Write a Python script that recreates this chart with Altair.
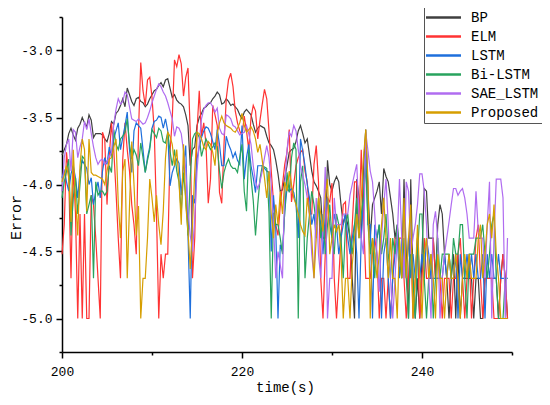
import altair as alt
import pandas as pd

# sampling times (s): 200.0 .. 249.5 every 0.25 s
t0 = 200.0
dt = 0.25
n_points = 199
times = [t0 + dt * i for i in range(n_points)]

series_names = ["BP", "ELM", "LSTM", "Bi-LSTM", "SAE_LSTM", "Proposed"]
series_colors = ["#3f3f3f", "#ff3333", "#1e6fdc", "#28a35e", "#b06cf0", "#d69e00"]

BP = [
    -3.78, -3.74, -3.70, -3.62, -3.58, -3.63, -3.67, -3.58, -3.55, -3.50, -3.54, -3.57, -3.48, -3.52, -3.65, -3.62, -3.62, -3.62, -3.63, -3.66,
    -3.68, -3.62, -3.53, -3.55, -3.47, -3.45, -3.41, -3.36, -3.42, -3.28, -3.33, -3.38, -3.41, -3.36, -3.35, -3.38, -3.39, -3.42, -3.40, -3.36,
    -3.33, -3.30, -3.29, -3.26, -3.24, -3.27, -3.22, -3.21, -3.28, -3.35, -3.33, -3.37, -3.39, -3.40, -3.42, -3.48, -3.56, -3.86, -3.74, -3.72,
    -3.56, -3.50, -3.47, -3.43, -3.42, -3.40, -3.39, -3.36, -3.34, -3.31, -3.33, -3.40, -3.39, -3.36, -3.38, -3.41, -3.40, -3.42, -3.44, -3.48,
    -3.51, -3.46, -3.44, -3.46, -3.48, -3.55, -3.61, -3.58, -3.56, -3.57, -3.58, -3.64, -3.69, -3.71, -3.74, -3.82, -3.92, -4.05, -4.04, -3.95,
    -3.86, -3.76, -3.74, -3.73, -3.68, -3.60, -3.56, -3.62, -3.69, -3.66, -3.78, -3.90, -3.98, -4.01, -4.05, -4.10, -4.40, -4.40, -3.82, -4.00,
    -4.05, -3.98, -3.94, -3.98, -4.15, -4.30, -4.22, -4.30, -4.40, -4.70, -5.00, -3.96, -4.10, -4.40, -3.86, -3.59, -4.05, -4.40, -4.15, -4.10,
    -4.05, -3.98, -4.22, -3.88, -3.94, -3.98, -4.10, -4.22, -4.40, -4.30, -4.52, -4.70, -3.96, -4.52, -5.00, -3.96, -4.70, -5.00, -4.70, -5.00,
    -4.52, -4.03, -4.05, -4.40, -4.40, -4.40, -4.70, -4.30, -4.15, -4.22, -4.52, -4.70, -5.00, -4.70, -4.52, -5.00, -4.52, -5.00, -4.70, -4.70,
    -4.70, -4.70, -4.70, -5.00, -4.70, -4.70, -5.00, -5.00, -4.70, -4.70, -4.70, -4.70, -4.70, -4.70, -5.00, -4.70, -4.52, -4.70, -5.00,
]

ELM = [
    -4.52, -4.30, -3.76, -3.93, -4.70, -3.86, -4.22, -5.00, -4.22, -5.00, -4.22, -5.00, -5.00, -4.08, -4.15, -4.40, -4.70, -5.00, -3.61, -3.66,
    -4.15, -3.80, -3.54, -3.74, -4.05, -4.40, -4.70, -3.81, -3.54, -3.74, -3.90, -4.15, -4.30, -4.52, -3.60, -3.09, -3.30, -3.41, -3.22, -3.20,
    -3.35, -3.60, -4.22, -5.00, -4.52, -4.70, -4.52, -4.52, -3.76, -3.51, -3.07, -3.12, -3.03, -3.10, -3.34, -3.20, -3.13, -3.61, -4.70, -4.40,
    -3.60, -3.30, -3.64, -3.54, -3.70, -4.14, -3.96, -3.41, -3.48, -3.56, -4.06, -4.14, -3.70, -3.36, -3.22, -3.17, -3.27, -3.45, -3.54, -3.60,
    -3.64, -3.49, -3.60, -3.74, -3.50, -3.41, -3.45, -3.66, -3.52, -3.40, -3.29, -3.36, -3.60, -3.90, -4.13, -4.30, -4.38, -4.16, -4.00, -3.85,
    -3.76, -3.59, -4.13, -4.00, -3.86, -3.80, -3.76, -3.74, -3.90, -3.98, -4.22, -4.22, -3.85, -3.71, -3.98, -4.70, -5.00, -4.52, -4.10, -4.13,
    -3.99, -4.70, -5.00, -4.70, -4.40, -4.15, -4.13, -4.70, -4.70, -4.30, -3.98, -3.98, -4.30, -3.74, -4.22, -4.70, -4.70, -4.70, -4.52, -4.40,
    -4.52, -5.00, -4.70, -4.70, -5.00, -4.70, -5.00, -4.70, -4.40, -4.40, -4.40, -4.40, -4.70, -5.00, -4.70, -4.40, -5.00, -4.70, -4.40, -5.00,
    -4.70, -4.40, -4.70, -4.70, -4.70, -4.40, -4.70, -4.70, -4.70, -5.00, -4.70, -4.70, -4.70, -5.00, -4.70, -4.70, -4.52, -4.40, -4.70, -5.00,
    -4.70, -4.52, -5.00, -4.70, -4.40, -4.30, -4.70, -5.00, -4.70, -4.70, -4.70, -4.70, -5.00, -5.00, -5.00, -4.70, -4.52, -4.70, -5.00,
]

LSTM = [
    -3.95, -3.90, -3.98, -4.05, -3.92, -3.86, -3.95, -4.10, -3.90, -3.82, -3.85, -3.88, -4.00, -3.95, -4.15, -4.05, -3.98, -4.10, -3.90, -3.80,
    -3.85, -3.72, -3.80, -3.66, -3.60, -3.54, -3.74, -3.65, -3.56, -3.46, -3.74, -3.91, -3.60, -3.54, -3.56, -3.58, -3.74, -3.91, -3.80, -3.72,
    -3.58, -3.53, -3.52, -3.49, -3.50, -3.58, -3.51, -3.60, -4.01, -3.91, -3.86, -3.81, -3.84, -4.08, -3.86, -3.71, -4.38, -5.00, -4.08, -4.14,
    -3.81, -3.72, -3.65, -3.60, -3.57, -3.58, -3.62, -3.68, -3.74, -3.59, -3.70, -3.86, -3.86, -3.64, -3.70, -3.74, -3.80, -3.76, -3.82, -3.85,
    -3.56, -3.96, -3.80, -3.70, -3.86, -3.95, -4.06, -3.86, -3.86, -3.86, -3.88, -3.90, -3.91, -4.50, -4.08, -4.33, -5.00, -4.45, -4.50, -4.20,
    -4.03, -4.05, -4.03, -4.06, -4.15, -4.40, -3.66, -3.75, -3.86, -4.00, -4.10, -4.30, -4.22, -4.40, -4.15, -4.30, -4.52, -4.22, -4.10, -4.30,
    -4.40, -4.22, -4.30, -4.52, -4.40, -4.30, -4.22, -4.40, -4.52, -4.40, -4.30, -4.52, -5.00, -4.40, -4.10, -3.74, -4.30, -4.30, -5.00, -4.30,
    -4.40, -4.30, -5.00, -4.52, -4.40, -4.70, -5.00, -4.70, -4.52, -4.40, -4.70, -4.40, -4.52, -4.70, -4.40, -4.70, -4.52, -4.70, -4.40, -4.70,
    -4.52, -4.70, -4.40, -4.52, -4.70, -4.70, -4.70, -4.70, -4.70, -4.70, -4.52, -4.70, -4.52, -4.70, -4.70, -4.52, -5.00, -4.52, -4.70, -4.70,
    -4.52, -4.70, -4.52, -4.70, -4.52, -4.70, -4.70, -4.52, -5.00, -4.52, -4.70, -4.52, -4.70, -4.70, -4.52, -4.70, -4.70, -4.70, -4.70,
]

BI_LSTM = [
    -4.10, -3.98, -3.90, -3.81, -4.38, -4.10, -3.95, -4.22, -4.00, -3.79, -3.81, -4.22, -4.15, -4.08, -4.70, -3.98, -4.08, -4.05, -4.05, -4.08,
    -4.05, -3.86, -3.91, -3.59, -3.70, -3.74, -3.66, -3.64, -3.61, -3.51, -3.70, -3.81, -3.74, -3.78, -3.86, -3.69, -3.80, -3.91, -3.82, -3.74,
    -3.59, -3.62, -3.65, -3.58, -3.60, -3.68, -3.69, -3.61, -3.75, -3.86, -3.74, -3.90, -3.98, -4.21, -3.91, -4.10, -4.38, -3.95, -3.66, -3.62,
    -3.61, -3.65, -3.79, -3.72, -3.66, -3.70, -3.74, -3.72, -3.69, -3.72, -3.90, -4.03, -3.91, -3.85, -3.81, -3.86, -3.88, -3.88, -3.91, -3.80,
    -3.70, -4.05, -4.20, -3.74, -3.95, -4.12, -4.38, -4.15, -3.96, -3.86, -3.87, -3.88, -4.21, -5.00, -4.21, -4.30, -4.30, -4.40, -4.52, -4.20,
    -3.91, -4.06, -3.80, -3.69, -3.74, -5.00, -3.98, -3.86, -4.70, -4.40, -4.22, -4.05, -4.15, -4.30, -4.10, -4.40, -4.22, -4.52, -4.30, -4.15,
    -4.40, -4.52, -4.22, -4.30, -4.40, -4.70, -4.30, -4.22, -4.40, -4.52, -4.30, -4.10, -4.40, -4.22, -4.10, -3.86, -4.30, -4.52, -4.40, -4.70,
    -4.40, -4.30, -4.52, -4.40, -4.22, -4.52, -4.70, -4.40, -4.52, -4.30, -4.52, -4.70, -4.40, -4.70, -5.00, -4.40, -4.70, -5.00, -4.52, -4.22,
    -4.22, -4.70, -5.00, -4.70, -4.52, -5.00, -4.70, -4.40, -4.70, -4.52, -4.52, -4.52, -4.52, -4.70, -4.40, -4.52, -4.52, -4.30, -4.30, -4.70,
    -5.00, -4.52, -4.52, -4.52, -4.40, -4.40, -4.40, -4.30, -4.52, -4.70, -4.52, -4.30, -4.22, -4.70, -5.00, -5.00, -5.00, -4.70, -4.70,
]

SAE_LSTM = [
    -4.05, -3.80, -3.70, -3.66, -3.90, -3.59, -3.61, -3.80, -3.72, -3.66, -3.53, -3.59, -3.51, -3.62, -3.72, -3.80, -3.85, -3.82, -3.81, -3.85,
    -3.83, -3.79, -3.76, -3.55, -3.44, -3.36, -3.40, -3.38, -3.31, -3.33, -3.42, -3.51, -3.52, -3.53, -3.51, -3.53, -3.55, -3.54, -3.50, -3.45,
    -3.39, -3.34, -3.29, -3.25, -3.27, -3.31, -3.34, -3.39, -3.45, -3.51, -3.64, -3.57, -3.58, -3.62, -3.75, -3.88, -4.20, -4.38, -4.50, -4.25,
    -3.90, -3.69, -3.51, -3.44, -3.41, -3.39, -3.39, -3.42, -3.46, -3.43, -3.58, -3.62, -3.63, -3.48, -3.49, -3.51, -3.56, -3.57, -3.60, -3.63,
    -3.62, -3.61, -3.56, -3.62, -3.70, -3.86, -3.98, -4.03, -3.98, -3.90, -3.80, -3.71, -3.80, -4.00, -4.30, -4.70, -4.50, -4.60, -4.70, -4.01,
    -3.74, -3.61, -3.64, -3.56, -3.60, -3.74, -3.86, -3.93, -4.00, -4.10, -4.22, -4.52, -4.70, -4.10, -4.52, -4.70, -4.30, -3.87, -5.00, -4.70,
    -4.70, -4.10, -4.30, -4.30, -4.30, -4.22, -4.22, -4.22, -4.08, -4.00, -3.92, -3.85, -4.22, -4.40, -4.52, -3.61, -3.75, -3.90, -3.98, -4.22,
    -4.52, -4.80, -4.40, -4.15, -3.96, -4.30, -4.70, -5.00, -4.70, -4.40, -3.96, -4.40, -4.70, -3.98, -4.05, -4.52, -4.40, -4.30, -4.15, -3.92,
    -3.92, -4.05, -4.30, -4.70, -5.00, -4.30, -4.20, -4.40, -5.00, -4.70, -4.52, -4.40, -4.28, -4.15, -4.03, -4.03, -4.08, -4.05, -4.03, -4.10,
    -4.22, -4.40, -4.40, -4.40, -4.05, -4.35, -4.40, -4.40, -4.70, -4.30, -3.98, -5.00, -4.40, -3.96, -3.96, -3.96, -4.10, -5.00, -4.40,
]

PROPOSED = [
    -3.98, -3.93, -3.86, -3.95, -4.28, -3.74, -4.10, -4.38, -3.86, -3.66, -3.74, -4.20, -3.66, -3.91, -3.93, -3.93, -3.94, -3.95, -3.96, -4.00,
    -3.90, -3.81, -3.80, -3.72, -3.66, -4.14, -4.40, -3.90, -3.81, -4.70, -4.16, -3.68, -4.00, -4.38, -4.16, -5.00, -4.70, -4.70, -4.40, -3.96,
    -4.10, -4.28, -4.08, -4.30, -4.45, -4.20, -3.80, -3.61, -3.64, -3.70, -3.86, -3.74, -3.98, -4.30, -3.70, -4.15, -4.35, -4.63, -4.30, -3.90,
    -3.61, -3.62, -3.66, -3.72, -3.74, -3.68, -3.70, -3.76, -3.86, -3.62, -3.54, -3.49, -3.54, -3.56, -3.57, -3.58, -3.60, -3.61, -3.58, -3.54,
    -3.47, -3.56, -3.61, -3.59, -3.57, -3.60, -3.66, -3.76, -3.70, -3.82, -3.95, -4.10, -3.90, -4.22, -4.40, -4.15, -4.30, -4.05, -4.22, -3.98,
    -4.05, -3.90, -4.00, -4.10, -4.15, -4.22, -4.30, -4.35, -4.38, -4.10, -4.22, -4.40, -4.70, -4.40, -4.10, -4.22, -4.35, -4.10, -3.96, -4.52,
    -4.40, -4.30, -4.35, -4.30, -4.52, -5.00, -4.70, -4.70, -5.00, -4.60, -4.40, -4.22, -4.40, -4.10, -3.80, -3.59, -3.98, -5.00, -4.40, -4.52,
    -4.70, -4.52, -4.30, -4.10, -4.40, -4.70, -4.40, -4.70, -4.70, -5.00, -4.40, -4.70, -4.10, -4.70, -4.40, -4.15, -5.00, -4.70, -4.30, -4.70,
    -5.00, -4.52, -4.40, -4.70, -4.52, -4.70, -5.00, -4.52, -4.70, -4.70, -5.00, -4.70, -4.52, -4.70, -4.70, -4.52, -4.70, -5.00, -4.70, -4.52,
    -4.70, -4.52, -4.70, -4.70, -4.70, -4.40, -4.30, -4.70, -4.52, -4.30, -4.22, -4.40, -4.15, -4.52, -4.70, -5.00, -5.00, -5.00, -5.00,
]

x_ticks = [200, 210, 220, 230, 240, 250]
y_ticks = [-5.25, -5.0, -4.75, -4.5, -4.25, -4.0, -3.75, -3.5, -3.25, -3.0, -2.75]

all_series = [BP, ELM, LSTM, BI_LSTM, SAE_LSTM, PROPOSED]
rows = []
for order, (name, vals) in enumerate(zip(series_names, all_series)):
    for t, v in zip(times, vals):
        rows.append({"t": t, "err": v, "model": name, "order": order})
df = pd.DataFrame(rows)

FONT = "Liberation Mono"
is_half = "abs(datum.value*2 - round(datum.value*2)) < 0.001"

chart = (
    alt.Chart(df)
    .mark_line(strokeWidth=1.2)
    .encode(
        x=alt.X(
            "t:Q",
            scale=alt.Scale(domain=[200, 250], nice=False, zero=False),
            axis=alt.Axis(
                values=x_ticks,
                labelExpr="datum.value % 20 == 0 ? datum.label : ''",
                tickSize={"condition": {"test": "datum.value % 20 != 0", "value": 3}, "value": 6},
                labelFlush=False,
                grid=False,
                domainColor="black",
                domainWidth=1.5,
                tickColor="black",
                tickWidth=1.5,
                labelFont=FONT,
                labelFontSize=13,
                labelColor="black",
                labelPadding=7,
                title="time(s)",
                titleFont=FONT,
                titleFontSize=14,
                titleFontWeight="normal",
                titleColor="black",
                titleX=223,
                titleY=35,
                titleBaseline="middle",
            ),
        ),
        y=alt.Y(
            "err:Q",
            scale=alt.Scale(domain=[-5.25, -2.75], nice=False, zero=False),
            axis=alt.Axis(
                values=y_ticks,
                labelExpr=is_half + " ? '-' + format(abs(datum.value), '.1f') : ''",
                tickSize={"condition": {"test": "!(" + is_half + ")", "value": 3}, "value": 6},
                labelFlush=False,
                grid=False,
                domainColor="black",
                domainWidth=1.5,
                tickColor="black",
                tickWidth=1.5,
                labelFont=FONT,
                labelFontSize=13,
                labelColor="black",
                labelPadding=4,
                title="Error",
                titleFont=FONT,
                titleFontSize=15,
                titleFontWeight="normal",
                titleColor="black",
                titleX=-47,
                titleY=200,
                titleAngle=270,
                titleAlign="center",
                titleBaseline="middle",
            ),
        ),
        color=alt.Color(
            "model:N",
            scale=alt.Scale(domain=series_names, range=series_colors),
            legend=alt.Legend(
                title=None,
                orient="none",
                legendX=362,
                legendY=-10,
                symbolType="M-3,0H3",
                symbolSize=136,
                symbolStrokeWidth=2.5,
                symbolOffset=9,
                labelOffset=20,
                labelFont=FONT,
                labelFontSize=14,
                labelColor="black",
                labelLimit=0,
                padding=3,
                rowPadding=4,
                strokeColor="#555555",
                fillColor="white",
            ),
        ),
        order=alt.Order("order:Q"),
        detail="model:N",
    )
    .properties(
        width=450,
        height=335,
        padding={"left": 54, "top": 9, "right": 30, "bottom": 45},
        autosize=alt.AutoSizeParams(type="none"),
    )
    .configure_view(strokeWidth=0)
)

chart.save("out.html", embed_options={"renderer": "svg", "actions": False})
